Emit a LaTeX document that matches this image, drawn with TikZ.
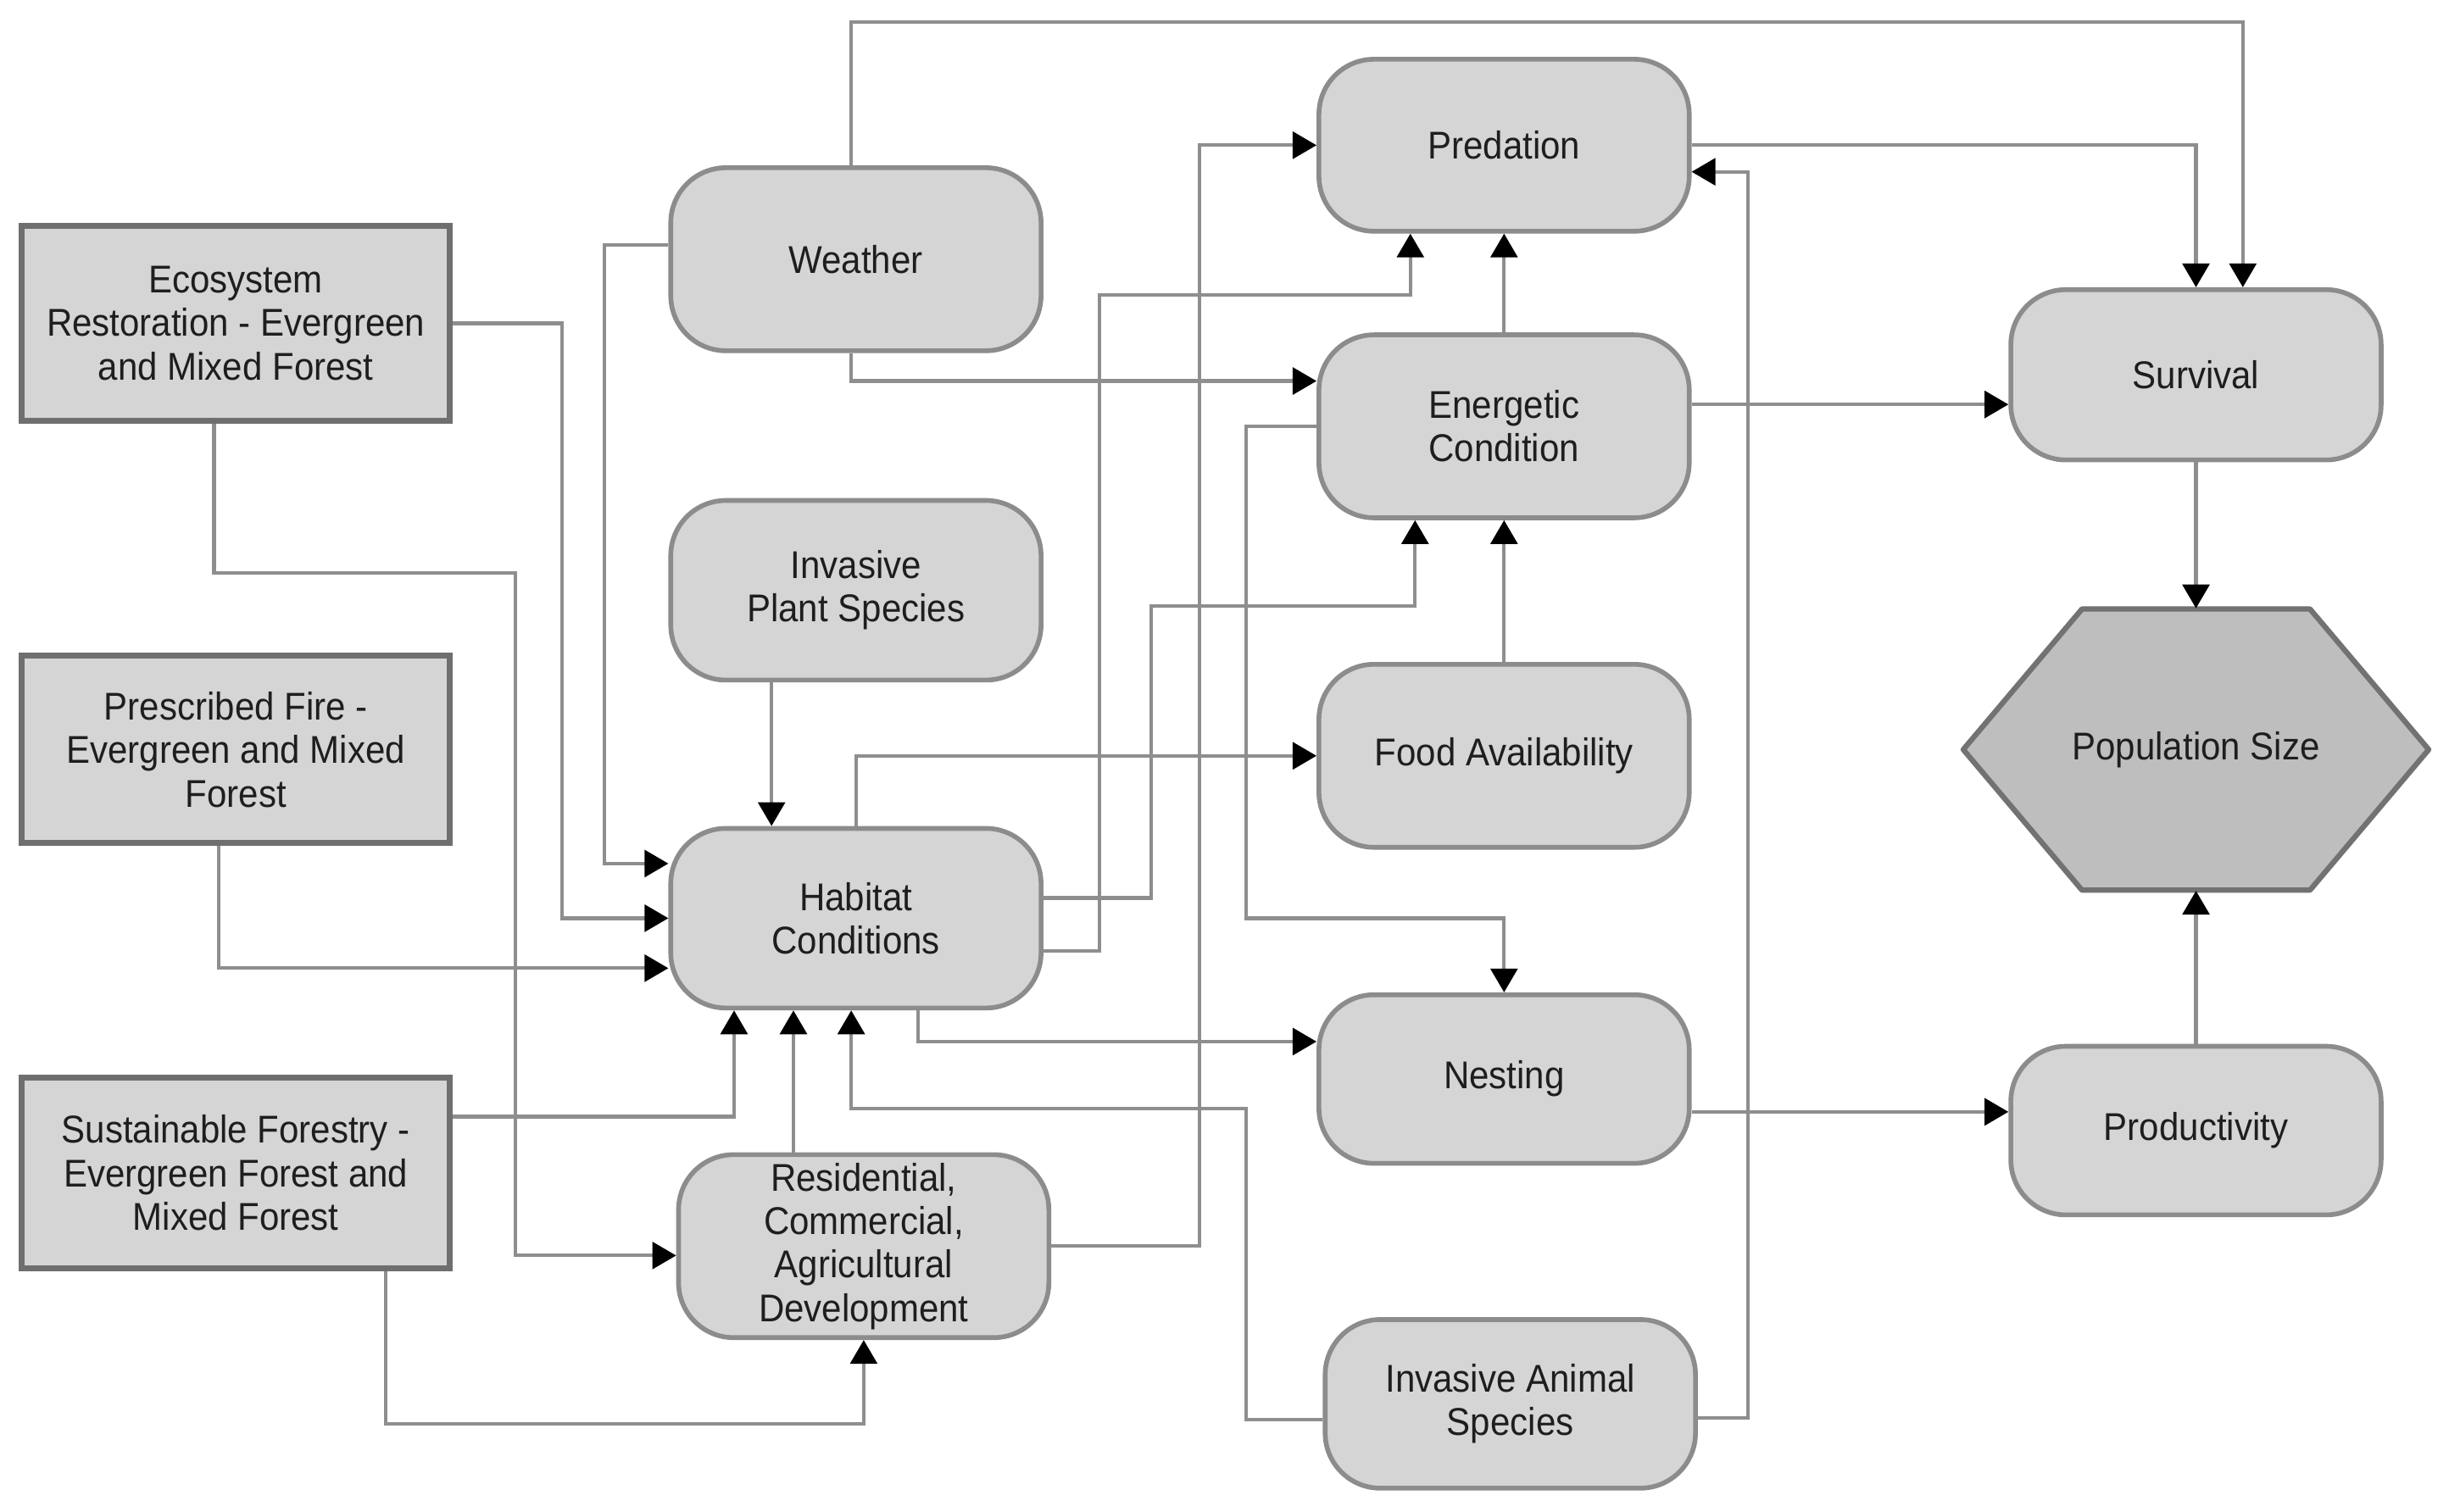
\documentclass[tikz,border=0pt]{standalone}
\usepackage{fontspec}
\setmainfont{Liberation Sans}[FakeStretch=0.92]
\usetikzlibrary{arrows.meta,calc}
\definecolor{boxfill}{HTML}{D5D5D5}
\definecolor{boxline}{HTML}{8C8C8C}
\definecolor{rectline}{HTML}{6F6F6F}
\definecolor{hexfill}{HTML}{BEBEBE}
\definecolor{hexline}{HTML}{727272}
\definecolor{conn}{HTML}{8E8E8E}
\definecolor{txt}{HTML}{1E1E1E}
\begin{document}
\begin{tikzpicture}[x=0.018425cm,y=-0.018425cm,
  every node/.style={font=\fontsize{13}{14.6}\selectfont, text=txt, align=center, inner sep=0pt},
  rbox/.style={draw=boxline, fill=boxfill, line width=1.6pt, rounded corners=0.65cm, minimum width=4.37cm},
  sbox/.style={draw=rectline, fill=boxfill, line width=2pt, minimum width=5.05cm},
  link/.style={draw=conn, line width=1.2pt},
  arr/.style={link, -{Triangle[length=8pt,width=9pt,color=black]}},
]
\useasboundingbox[fill=white] (0,0) rectangle (1568,968);

% left column
\node[sbox, minimum height=2.30cm] (eco) at (151,207) {Ecosystem\\Restoration - Evergreen\\and Mixed Forest};
\node[sbox, minimum height=2.21cm] (fire) at (151,480) {Prescribed Fire -\\Evergreen and Mixed\\Forest};
\node[sbox, minimum height=2.25cm] (sust) at (151,751) {Sustainable Forestry -\\Evergreen Forest and\\Mixed Forest};

% second column
\node[rbox, minimum height=2.16cm] (weather) at (548,166) {Weather};
\node[rbox, minimum height=2.12cm] (plant) at (548,378) {Invasive\\Plant Species};
\node[rbox, minimum height=2.12cm] (habitat) at (548,588) {Habitat\\Conditions};
\node[rbox, minimum height=2.16cm] (resid) at (553,798) {Residential,\\Commercial,\\Agricultural\\Development};

% third column
\node[rbox, minimum height=2.03cm] (pred) at (963,93) {Predation};
\node[rbox, minimum height=2.16cm] (energ) at (963,273) {Energetic\\Condition};
\node[rbox, minimum height=2.16cm] (food) at (963,484) {Food Availability};
\node[rbox, minimum height=1.99cm] (nest) at (963,691) {Nesting};
\node[rbox, minimum height=1.99cm] (inva) at (967,899) {Invasive Animal\\Species};

% right column
\node[rbox, minimum height=2.01cm] (surv) at (1406,240) {Survival};
\filldraw[fill=hexfill, draw=hexline, line width=1.8pt, line join=round]
  (1333,390) -- (1479,390) -- (1555,480) -- (1479,570) -- (1333,570) -- (1257,480) -- cycle;
\node[minimum width=5.47cm, minimum height=3.32cm] (pop) at (1406,480) {Population Size};
\node[rbox, minimum height=1.99cm] (prod) at (1406,724) {Productivity};

% connectors
\draw[arr] ($(weather.north)+(-3,0)$) |- (1436,14) -- ($(surv.north)+(30,0)$);
\draw[arr] (pred.east) -| ($(surv.north)+(0,0)$);
\draw[arr] ($(weather.south)+(-3,0)$) |- ($(energ.west)+(0,-29)$);
\draw[arr] ($(weather.west)+(0,-9)$) -- (387,157) |- ($(habitat.west)+(0,-35)$);
\draw[arr] (eco.east) -- (360,207) |- (habitat.west);
\draw[arr] ($(fire.south)+(-11,0)$) |- ($(habitat.west)+(0,32)$);
\draw[arr] ($(eco.south)+(-14,0)$) |- (330,367) |- ($(resid.west)+(0,6)$);
\draw[arr] ($(sust.east)+(0,-36)$) -| ($(habitat.south)+(-78,0)$);
\draw[arr] ($(resid.north)+(-45,0)$) -- ($(habitat.south)+(-40,0)$);
\draw[arr] ($(inva.west)+(0,10)$) -| (798,710) -| ($(habitat.south)+(-3,0)$);
\draw[arr] ($(sust.south)+(96,0)$) -- ++(0,98) -| (resid.south);
\draw[arr] ($(plant.south)+(-54,0)$) -- ($(habitat.north)+(-54,0)$);
\draw[arr] (habitat.north) |- (food.west);
\draw[arr] ($(habitat.east)+(0,-13)$) -| (737,388) -| ($(energ.south)+(-57,0)$);
\draw[arr] ($(habitat.east)+(0,21)$) -| (704,189) -| ($(pred.south)+(-60,0)$);
\draw[arr] ($(habitat.south)+(40,0)$) |- ($(nest.west)+(0,-24)$);
\draw[arr] (resid.east) -- (768,798) |- (pred.west);
\draw[arr] (energ.west) -- (798,273) |- (963,588) -- (nest.north);
\draw[arr] (energ.north) -- (pred.south);
\draw[arr] (food.north) -- (energ.south);
\draw[arr] ($(energ.east)+(0,-14)$) -- ($(surv.west)+(0,19)$);
\draw[arr] (surv.south) -- (pop.north);
\draw[arr] (prod.north) -- (pop.south);
\draw[arr] ($(nest.east)+(0,21)$) -- ($(prod.west)+(0,-12)$);
\draw[arr] ($(inva.east)+(0,9)$) -| (1119,110) -- ($(pred.east)+(0,17)$);
\end{tikzpicture}
\end{document}
